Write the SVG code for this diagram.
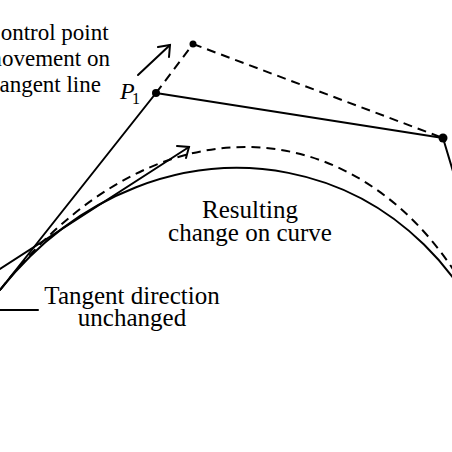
<svg xmlns="http://www.w3.org/2000/svg" width="452" height="452" viewBox="0 0 452 452">
<style>
.s{fill:none;stroke:#000;stroke-width:2;stroke-linecap:round}
.d{fill:none;stroke:#000;stroke-width:2;stroke-dasharray:9 6}
.t{font-family:"Liberation Serif","Times New Roman",serif;font-size:25px;fill:#000;text-anchor:middle}
.dot{fill:#000}
</style>
<rect width="452" height="452" fill="#fff"/>
<g id="connectors">
<path class="s" d="M0,290 L156,93"/>
<path class="d" d="M156,93 L193,44"/>
<path class="s" d="M156,93 L443,138"/>
<path class="d" d="M193,44 L443,138"/>
<path class="s" d="M443,138 L458,188"/>
<path class="s" d="M0,290 C156,93 443,138 510,400"/>
<path class="d" d="M0,290 C193,44 443,138 510,400"/>
<path class="s" d="M0,269 L189,147"/>
<path class="s" d="M177,146 L189,147 L186,158"/>
<path class="s" d="M138,75 L170,45"/>
<path class="s" d="M158,47 L170,45 L169,57"/>
<path class="s" d="M0,310 L38,310"/>
</g>
<g id="P1"><circle class="dot" cx="156" cy="93" r="4"/>
<text x="120" y="99" style="font-family:'Liberation Serif',serif;font-size:24px;font-style:italic">P</text>
<text x="132" y="104" style="font-family:'Liberation Serif',serif;font-size:16px">1</text></g>
<g id="P1moved"><circle class="dot" cx="193" cy="44" r="3.5"/></g>
<g id="P2"><circle class="dot" cx="443" cy="138" r="4.5"/></g>
<g id="label-control"><text class="t" x="47" y="40" style="font-size:23px">Control point</text>
<text class="t" x="47" y="66" style="font-size:23px">movement on</text>
<text class="t" x="47" y="92" style="font-size:23px">tangent line</text></g>
<g id="label-result"><text class="t" x="250" y="218">Resulting</text>
<text class="t" x="250" y="241">change on curve</text></g>
<g id="label-tangent"><text class="t" x="132" y="304">Tangent direction</text>
<text class="t" x="132" y="326">unchanged</text></g>
</svg>
